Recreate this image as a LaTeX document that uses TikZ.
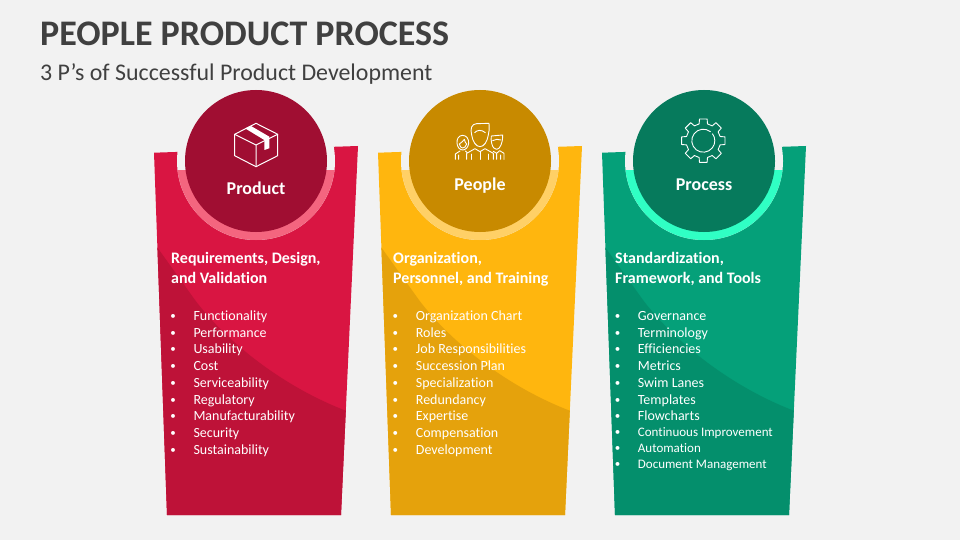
\documentclass[tikz,border=0pt]{standalone}
\usepackage{fontspec}
\setmainfont[Ligatures=NoCommon]{Carlito}
\definecolor{bgc}{HTML}{F2F2F2}
\definecolor{titlec}{HTML}{404040}
\definecolor{redA}{HTML}{D91542}\definecolor{redB}{HTML}{BE1238}\definecolor{redC}{HTML}{F4657F}\definecolor{redD}{HTML}{A00E32}
\definecolor{yelA}{HTML}{FFB60E}\definecolor{yelB}{HTML}{E5A20C}\definecolor{yelC}{HTML}{FFD066}\definecolor{yelD}{HTML}{C88A00}
\definecolor{grnA}{HTML}{05A079}\definecolor{grnB}{HTML}{048F6C}\definecolor{grnC}{HTML}{30FFC4}\definecolor{grnD}{HTML}{067A5C}
\tikzset{
  headtext/.style={anchor=base west,inner sep=0pt,text=white,font=\fontsize{16}{16}\selectfont\bfseries},
  itemtext/.style={anchor=base west,inner sep=0pt,text=white,font=\fontsize{14}{14}\selectfont},
  smalltext/.style={anchor=base west,inner sep=0pt,text=white,font=\fontsize{13}{13}\selectfont},
  bullettext/.style={anchor=base,inner sep=0pt,text=white,font=\fontsize{11}{11}\selectfont},
  labeltext/.style={anchor=base,inner sep=0pt,text=white,font=\fontsize{18}{18}\selectfont\bfseries},
  icon/.style={draw=white,line width=1pt,line join=round,line cap=round}
}
\newcommand{\cardshape}[5]{%
  \begin{scope}[shift={(#1,0)}]
    \fill[#2] (154,152.7) -- (358,146) -- (341,515) -- (167,515) -- cycle;
    \begin{scope}
      \clip (154,152.7) -- (358,146) -- (341,515) -- (167,515) -- cycle;
      \fill[#3] (140,240) -- (157,247) -- (195,300) .. controls (225,340) and (280,385) .. (344,410) -- (370,420) -- (370,530) -- (140,530) -- cycle;
    \end{scope}
    \fill[bgc] (256,161) circle[radius=79pt];
    \begin{scope}
      \clip (170,171) rectangle (342,250);
      \fill[#4] (256,161) circle[radius=79pt];
    \end{scope}
    \fill[#5] (256,161) circle[radius=71pt];
  \end{scope}}
% name, bullet x, text x, baseline y, style, text
\newcommand{\itemrow}[6]{%
  \node[bullettext] (#1-b) at (#2,#4-0.6) {•};
  \node[#5] (#1-t) at (#3,#4+0.4) {#6};}
\begin{document}
\begin{tikzpicture}[x=1pt,y=-1pt]
\useasboundingbox (0,0) rectangle (960,540);
\fill[bgc] (0,0) rectangle (960,540);
\node[anchor=base west,inner sep=0pt,text=titlec,font=\fontsize{36}{36}\selectfont\bfseries] (title) at (40,46) {PEOPLE PRODUCT PROCESS};
\node[anchor=base west,inner sep=0pt,text=titlec,font=\fontsize{23.9}{24}\selectfont] (subtitle) at (40,81) {3 P’s of Successful Product Development};

\cardshape{0}{redA}{redB}{redC}{redD}
\cardshape{224}{yelA}{yelB}{yelC}{yelD}
\cardshape{448}{grnA}{grnB}{grnC}{grnD}

% box icon
\draw[icon] (256,123.3) -- (277.7,134.3) -- (277.7,155.7) -- (256,166.7) -- (234.7,155.7) -- (234.7,134.3) -- cycle;
\draw[icon] (234.7,134.3) -- (256,145) -- (277.7,134.3) (256,145) -- (256,166.7);
\fill[white] (245,128.3) -- (251,126) -- (269.3,136.7) -- (269.3,148.3) -- (264.3,150) -- (264.3,140) -- cycle;

% people icon
\begin{scope}[shift={(430,100)},x=0.3333pt,y=-0.3333pt]
  \draw[icon,line width=0.9pt] (125,105) .. controls (120,85) and (125,72) .. (140,71) -- (177,70) .. controls (178,85) and (178,95) .. (175,105) .. controls (172,125) and (162,140) .. (150,140) .. controls (138,140) and (128,125) .. (125,105) -- cycle;
  \draw[icon,line width=0.9pt] (134,98) .. controls (140,90) and (155,88) .. (166,98);
  \draw[icon,line width=0.9pt] (110,178) -- (110,160) -- (135,146) -- (150,155) -- (165,146) -- (190,160) -- (190,178);
  \draw[icon,line width=0.9pt] (150,155) -- (150,178) (124,178) -- (124,162) (176,178) -- (176,162);
  \draw[icon,line width=0.9pt] (98,106) .. controls (85,106) and (80,118) .. (81,130) .. controls (82,142) and (90,150) .. (98,150) .. controls (106,150) and (115,142) .. (116,130) .. controls (117,118) and (110,106) .. (98,106) -- cycle;
  \draw[icon,line width=0.9pt] (88,132) .. controls (95,128) and (100,122) .. (103,118) .. controls (104,124) and (107,130) .. (110,132) .. controls (108,140) and (103,144) .. (98,144) .. controls (93,144) and (90,140) .. (88,132);
  \draw[icon,line width=0.9pt] (76,178) -- (76,162) -- (90,153) (106,153) -- (112,158) (86,178) -- (86,165);
  \draw[icon,line width=0.9pt] (184,108) -- (218,105) .. controls (218,120) and (216,128) .. (213,135) .. controls (210,143) and (205,148) .. (200,148) .. controls (194,148) and (188,143) .. (185,130) .. controls (183,122) and (183,115) .. (184,108) -- cycle;
  \draw[icon,line width=0.9pt] (188,122) .. controls (195,117) and (205,117) .. (213,120);
  \draw[icon,line width=0.9pt] (190,154) -- (200,160) -- (209,152) -- (222,160) -- (222,178) (200,160) -- (200,178) (212,178) -- (212,165);
\end{scope}

% gear icon
\begin{scope}[shift={(703.3,140.7)}]
  \draw[icon,line width=0.9pt]
    \foreach \a [count=\n from 0] in {0,45,...,315} {
      \ifnum\n=0 (\a-14:17.3pt) \else -- (\a-14:17.3pt) \fi
      -- (\a-10:22pt) -- (\a+10:22pt) -- (\a+14:17.3pt) -- (\a+45-14:17.3pt)
    } -- cycle;
  \draw[icon,line width=0.9pt] (52:11.5pt) arc[start angle=52,end angle=397,radius=11.5pt];
\end{scope}

% labels
\node[labeltext] (lab1) at (256,194) {Product};
\node[labeltext] (lab2) at (480,190) {People};
\node[labeltext] (lab3) at (704,190) {Process};

% headings
\node[headtext] (h1a) at (171,263.8) {Requirements, Design,};
\node[headtext] (h1b) at (171,283.3) {and Validation};
\node[headtext] (h2a) at (393,263.8) {Organization,};
\node[headtext] (h2b) at (393,283.3) {Personnel, and Training};
\node[headtext] (h3a) at (615,263.8) {Standardization,};
\node[headtext] (h3b) at (615,283.3) {Framework, and Tools};

% lists
\itemrow{a0}{173}{193.3}{320}{itemtext}{Functionality}
\itemrow{a1}{173}{193.3}{336.75}{itemtext}{Performance}
\itemrow{a2}{173}{193.3}{353.5}{itemtext}{Usability}
\itemrow{a3}{173}{193.3}{370.25}{itemtext}{Cost}
\itemrow{a4}{173}{193.3}{387}{itemtext}{Serviceability}
\itemrow{a5}{173}{193.3}{403.75}{itemtext}{Regulatory}
\itemrow{a6}{173}{193.3}{420.5}{itemtext}{Manufacturability}
\itemrow{a7}{173}{193.3}{437.25}{itemtext}{Security}
\itemrow{a8}{173}{193.3}{454}{itemtext}{Sustainability}

\itemrow{b0}{395.3}{415.7}{320}{itemtext}{Organization Chart}
\itemrow{b1}{395.3}{415.7}{336.75}{itemtext}{Roles}
\itemrow{b2}{395.3}{415.7}{353.5}{itemtext}{Job Responsibilities}
\itemrow{b3}{395.3}{415.7}{370.25}{itemtext}{Succession Plan}
\itemrow{b4}{395.3}{415.7}{387}{itemtext}{Specialization}
\itemrow{b5}{395.3}{415.7}{403.75}{itemtext}{Redundancy}
\itemrow{b6}{395.3}{415.7}{420.5}{itemtext}{Expertise}
\itemrow{b7}{395.3}{415.7}{437.25}{itemtext}{Compensation}
\itemrow{b8}{395.3}{415.7}{454}{itemtext}{Development}

\itemrow{c0}{617.7}{637.7}{320}{itemtext}{Governance}
\itemrow{c1}{617.7}{637.7}{336.75}{itemtext}{Terminology}
\itemrow{c2}{617.7}{637.7}{353.5}{itemtext}{Efficiencies}
\itemrow{c3}{617.7}{637.7}{370.25}{itemtext}{Metrics}
\itemrow{c4}{617.7}{637.7}{387}{itemtext}{Swim Lanes}
\itemrow{c5}{617.7}{637.7}{403.75}{itemtext}{Templates}
\itemrow{c6}{617.7}{637.7}{420.5}{itemtext}{Flowcharts}
\itemrow{c7}{617.7}{637.7}{436}{smalltext}{Continuous Improvement}
\itemrow{c8}{617.7}{637.7}{452}{smalltext}{Automation}
\itemrow{c9}{617.7}{637.7}{468}{smalltext}{Document Management}
\end{tikzpicture}
\end{document}
